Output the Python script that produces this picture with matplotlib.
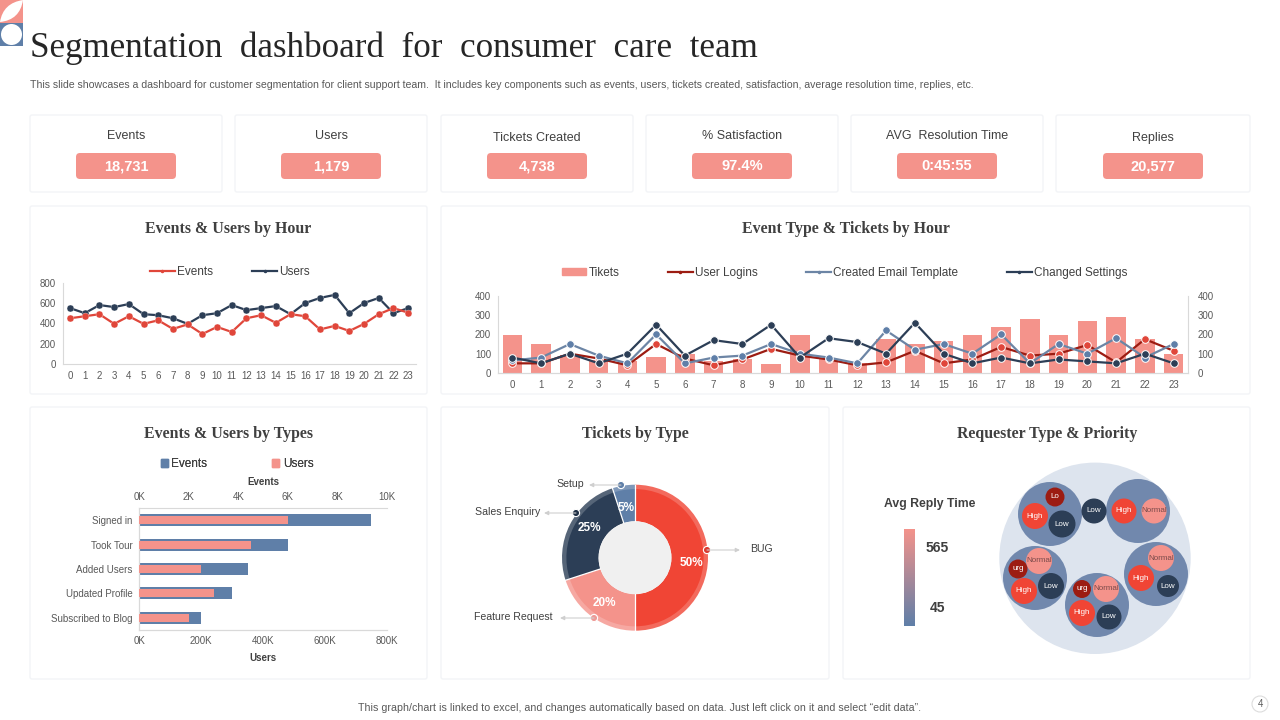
import numpy as np
import matplotlib
matplotlib.use("Agg")
import matplotlib.pyplot as plt
from matplotlib.colors import LinearSegmentedColormap
from matplotlib.lines import Line2D
from matplotlib.path import Path
from matplotlib.patches import Circle, FancyBboxPatch, Patch, PathPatch, Rectangle

plt.rcParams['font.family'] = ['Liberation Sans', 'DejaVu Sans']

W, H = 1280, 720

# colours
RED = '#e0463a'
DARK_RED = '#9c1c12'
NAVY = '#2c3e56'
BLUE = '#5f7fa8'
PINK = '#f4938b'
BRIGHT = '#f04535'
TXT = '#595959'
GRID = '#d9d9d9'
CARD = '#f3f4f7'

# KPI cards
kpi_names = ['Events', 'Users', 'Tickets Created', '% Satisfaction', 'AVG  Resolution Time', 'Replies']
kpi_values = ['18,731', '1,179', '4,738', '97.4%', '0:45:55', '20,577']

# hourly data
hours = list(range(24))
events_hour = [450, 470, 490, 395, 470, 395, 430, 345, 390, 295, 365, 315, 450, 480, 405, 490, 470, 340, 375, 325, 395, 490, 550, 505]
users_hour = [550, 500, 580, 560, 590, 490, 480, 450, 395, 480, 500, 580, 530, 550, 570, 490, 600, 650, 680, 500, 600, 650, 500, 550]

tickets = [197, 150, 95, 65, 60, 85, 100, 60, 75, 47, 197, 75, 50, 175, 150, 165, 197, 238, 280, 197, 270, 290, 175, 100]
user_logins = [50, 50, 100, 75, 40, 150, 75, 40, 70, 125, 90, 70, 40, 55, 115, 50, 70, 135, 90, 100, 145, 55, 175, 115]
email_template = [65, 80, 150, 90, 50, 200, 50, 80, 90, 150, 100, 80, 50, 220, 120, 150, 100, 200, 50, 150, 100, 180, 80, 150]
changed_settings = [80, 50, 100, 50, 100, 250, 90, 170, 150, 250, 80, 180, 160, 100, 260, 100, 50, 80, 50, 70, 60, 50, 100, 50]

# events & users by type
type_names = ['Signed in', 'Took Tour', 'Added Users', 'Updated Profile', 'Subscribed to Blog']
type_events = [9350, 6000, 4400, 3750, 2500]
type_users = [481000, 361000, 200000, 241000, 160000]

# tickets by type
ticket_types = ['BUG', 'Feature Request', 'Sales Enquiry', 'Setup']
ticket_share = [50, 20, 25, 5]
ticket_colors = [BRIGHT, PINK, NAVY, BLUE]
dot_colors = ['#d93a30', '#ee9a96', '#1f2f45', BLUE]

# callout layout in picture pixels: dot x, dot y, arrow tip x, label x, label alignment
callouts = [(707, 550, 740, 750, 'left'), (594, 618, 560, 553, 'right'),
            (576, 513, 544, 540, 'right'), (621, 485, 589, 584, 'right')]
pct_xy = [(691, 563), (604, 603), (589, 528), (626, 508)]

# requester type & priority, circle packing in picture pixels
groups = [(1050, 514, 32), (1138, 511, 32), (1035, 578, 32), (1156, 574, 32), (1097, 605, 32)]
bubble_labels = ['Lo', 'High', 'Low', 'Low', 'High', 'Normal', 'Normal', 'urg', 'High', 'Low',
                 'Normal', 'High', 'Low', 'urg', 'Normal', 'High', 'Low']
bubble_xy = [(1055, 497), (1035, 516), (1062, 524), (1094, 511), (1124, 511), (1154, 511),
             (1039, 561), (1018, 569), (1024, 591), (1051, 586),
             (1161, 558), (1141, 578), (1168, 586),
             (1082, 589), (1106, 589), (1082, 613), (1109, 617)]
bubble_r = [9.5, 13, 13.5, 12.5, 12.5, 12.5, 13, 9.5, 13, 13, 13, 13, 11, 9, 13, 13, 12.5]
priority_colors = {'Lo': DARK_RED, 'urg': DARK_RED, 'High': BRIGHT, 'Low': NAVY, 'Normal': PINK}

fig = plt.figure(figsize=(W / 100, H / 100), dpi=100, facecolor='white')


def px_axes(left, top, right, bottom):
    return fig.add_axes([left / W, 1 - bottom / H, (right - left) / W, (bottom - top) / H])


def px_layer():
    layer = fig.add_axes([0, 0, 1, 1])
    layer.set_xlim(0, W)
    layer.set_ylim(H, 0)
    layer.axis('off')
    return layer


# page layer in pixel coordinates
bg = px_layer()


def card(x0, y0, x1, y1):
    bg.add_patch(FancyBboxPatch((x0, y0), x1 - x0, y1 - y0, boxstyle='round,pad=0,rounding_size=2',
                                fc='white', ec=CARD, lw=1.0))


def add_legend(**kw):
    leg = bg.legend(loc='center', bbox_transform=bg.transData, frameon=False, fontsize=8.5,
                    labelcolor='#404040', **kw)
    bg.add_artist(leg)


# logo
bg.add_patch(Rectangle((0, 0), 23, 23, fc=PINK, ec='none'))
bg.add_patch(Rectangle((0, 23), 23, 23, fc=BLUE, ec='none'))
bg.add_patch(Circle((11.5, 34.5), 10.5, fc='white', ec='none'))
bg.add_patch(PathPatch(Path([(0, 22), (3, 3), (23, 0), (20, 20), (0, 22)],
                            [Path.MOVETO, Path.CURVE3, Path.CURVE3, Path.CURVE3, Path.CURVE3]),
                       fc='white', ec='none'))

bg.text(30, 48, 'Segmentation  dashboard  for  consumer  care  team', family='Liberation Serif',
        fontsize=25.2, color='#262626', va='center', ha='left')
bg.text(30, 84.5, 'This slide showcases a dashboard for customer segmentation for client support team.  It includes key '
        'components such as events, users, tickets created, satisfaction, average resolution time, replies, etc.',
        fontsize=7.6, color=TXT, va='center', ha='left')

# KPI row
card_x = [(30, 222), (235, 427), (441, 633), (646, 838), (851, 1043), (1056, 1250)]
pill_x = [76, 281, 487, 692, 897, 1103]
name_y = [136, 136, 138, 136, 136, 138]
for (x0, x1), px, ny, name, val in zip(card_x, pill_x, name_y, kpi_names, kpi_values):
    card(x0, 115, x1, 192)
    bg.text((x0 + x1) / 2, ny, name, fontsize=9, color='#404040', ha='center', va='center')
    bg.add_patch(FancyBboxPatch((px, 153), 100, 26, boxstyle='round,pad=0,rounding_size=4', fc=PINK, ec='none'))
    bg.text(px + 50, 166.5, val, fontsize=10.5, color='white', fontweight='bold', ha='center', va='center')

# panels
card(30, 206, 427, 394)
card(441, 206, 1250, 394)
card(30, 407, 427, 679)
card(441, 407, 829, 679)
card(843, 407, 1250, 679)

for tx, ty, t in [(228, 229, 'Events & Users by Hour'), (846, 229, 'Event Type & Tickets by Hour'),
                  (229, 434, 'Events & Users by Types'), (635, 434, 'Tickets by Type'),
                  (1047, 434, 'Requester Type & Priority')]:
    bg.text(tx, ty, t, family='Liberation Serif', fontsize=11.4, fontweight='bold', color='#404040',
            ha='center', va='center')

bg.text(640, 708, 'This graph/chart is linked to excel, and changes automatically based on data. Just left click on it '
        'and select \u201cedit data\u201d.', fontsize=7.65, color=TXT, ha='center', va='center')
bg.add_patch(Circle((1260, 704), 8, fc='white', ec='#dddddd', lw=0.8))
bg.text(1260, 704, '4', fontsize=7, color=TXT, ha='center', va='center')


def clean(ax, sides=('left', 'bottom')):
    ax.patch.set_alpha(0)
    for s in ax.spines:
        ax.spines[s].set_visible(s in sides)
        ax.spines[s].set_color(GRID)
    ax.tick_params(length=0, labelsize=7, labelcolor=TXT, pad=5)


def legend_line(color, label):
    return Line2D([0], [0], color=color, lw=1.6, marker='o', ms=1.5, label=label)


def hour_line(ax, y, color, mfc=None, mew=0.7, ms=5.5, z=3):
    ax.plot(hours, y, color=color, lw=1.6, marker='o', ms=ms, mfc=mfc or color, mec='white', mew=mew, zorder=z)


# events & users by hour
ax1 = px_axes(62.7, 282.7, 415.5, 364)
clean(ax1)
hour_line(ax1, users_hour, NAVY, mew=0.2, ms=5)
hour_line(ax1, events_hour, RED, mew=0.2, ms=5)
ax1.set_xlim(-0.5, 23.5)
ax1.set_ylim(0, 800)
ax1.set_xticks(hours)
ax1.set_yticks([0, 200, 400, 600, 800])
ax1.tick_params(axis='y', pad=5)
add_legend(handles=[legend_line(RED, 'Events'), legend_line(NAVY, 'Users')], ncol=2,
           bbox_to_anchor=(230, 272), handlelength=2.1, handletextpad=0.2, columnspacing=3.3)

# event type & tickets by hour
ax2 = px_axes(498, 295.7, 1188, 373)
clean(ax2)
ax2.bar(hours, tickets, width=0.68, color=PINK, zorder=1)
ax2.set_xlim(-0.5, 23.5)
ax2.set_ylim(0, 400)
ax2.set_xticks(hours)
ax2.set_yticks([0, 100, 200, 300, 400])
ax2.tick_params(axis='y', pad=5)
ax2r = ax2.twinx()
clean(ax2r, sides=('right', 'bottom'))
hour_line(ax2r, user_logins, DARK_RED, mfc=RED, z=3)
hour_line(ax2r, email_template, '#6c85a5', mfc=BLUE, z=4)
hour_line(ax2r, changed_settings, NAVY, z=5)
ax2r.set_ylim(0, 400)
ax2r.set_yticks([0, 100, 200, 300, 400])
ax2r.tick_params(axis='y', pad=7)
add_legend(handles=[Patch(color=PINK, label='Tikets'), legend_line(DARK_RED, 'User Logins'),
                    legend_line('#6c85a5', 'Created Email Template'), legend_line(NAVY, 'Changed Settings')],
           ncol=4, bbox_to_anchor=(844.5, 273), handlelength=2.1, handleheight=0.55, handletextpad=0.2,
           columnspacing=4.1)

# events & users by types
ax3 = px_axes(139.3, 508, 386.7, 630)
clean(ax3)
ypos = np.arange(len(type_names))
ax3.barh(ypos, type_users, height=0.33, color=PINK, zorder=3)
ax3.set_xlim(0, 800000)
ax3.set_xticks([0, 200000, 400000, 600000, 800000])
ax3.set_xticklabels(['0K', '200K', '400K', '600K', '800K'])
ax3.set_ylim(len(type_names) - 0.5, -0.5)
ax3.set_yticks(ypos)
ax3.set_yticklabels(type_names)
ax3.tick_params(axis='y', pad=5)
ax3.tick_params(axis='x', pad=4)
ax3.set_xlabel('Users', fontsize=7, fontweight='bold', color='#404040', labelpad=5.5)
ax3t = ax3.twiny()
clean(ax3t, sides=('left', 'top', 'bottom'))
ax3t.barh(ypos, type_events, height=0.49, color=BLUE, zorder=1)
ax3t.set_xlim(0, 10000)
ax3t.set_xticks([0, 2000, 4000, 6000, 8000, 10000])
ax3t.set_xticklabels(['0K', '2K', '4K', '6K', '8K', '10K'])
ax3t.xaxis.set_ticks_position('top')
ax3t.tick_params(axis='x', pad=4)
ax3t.set_xlabel('Events', fontsize=7, fontweight='bold', color='#404040', labelpad=5.5)
ax3t.xaxis.set_label_position('top')
ax3.set_zorder(ax3t.get_zorder() + 1)
add_legend(handles=[Patch(color=BLUE, label='Events'), Patch(color=PINK, label='Users')], ncol=2,
           bbox_to_anchor=(237, 464), handlelength=0.6, handleheight=0.7, handletextpad=0.3, columnspacing=5.5)

# tickets by type, white separators drawn on top so no ring shows between rim and core
ax4 = px_axes(555, 477.7, 715, 637.7)
ax4.pie(ticket_share, colors=ticket_colors, startangle=90, counterclock=False, radius=1.0,
        wedgeprops=dict(width=0.5, ec='none', alpha=0.8))
ax4.pie(ticket_share, colors=ticket_colors, startangle=90, counterclock=False, radius=0.94,
        wedgeprops=dict(width=0.44, ec='none'))
ax4.add_patch(Circle((0, 0), 0.5, fc='#f0f0f0', ec='none', zorder=5))
for edge in np.cumsum([0] + ticket_share[:-1]):
    ang = np.deg2rad(edge * 3.6)
    ax4.plot([0.5 * np.sin(ang), np.sin(ang)], [0.5 * np.cos(ang), np.cos(ang)], color='white', lw=0.9, zorder=6)
ax4.set_xlim(-1.096, 1.096)
ax4.set_ylim(-1.096, 1.096)

top = px_layer()
for name, share, (sx, sy) in zip(ticket_types, ticket_share, pct_xy):
    top.text(sx, sy, f'{share}%', color='white', fontsize=8.5, fontweight='bold', ha='center', va='center')
for name, col, (dx, dy, tip, lx, ha) in zip(ticket_types, dot_colors, callouts):
    top.annotate('', xy=(tip, dy), xytext=(dx, dy),
                 arrowprops=dict(arrowstyle='-|>,head_width=0.12,head_length=0.25', color='#cfcfcf', lw=0.8,
                                 shrinkA=0, shrinkB=0))
    top.add_patch(Circle((dx, dy), 3.6, fc=col, ec='white', lw=0.8))
    top.text(lx, dy - 1, name, fontsize=7.6, color='#404040', ha=ha, va='center')

# requester type & priority
top.add_patch(Circle((1095, 558.3), 95.7, fc='#dde4ee', ec='none'))
for gx, gy, gr in groups:
    top.add_patch(Circle((gx, gy), gr, fc='#7188ad', ec='none'))
for lab, (bx, by), br in zip(bubble_labels, bubble_xy, bubble_r):
    top.add_patch(Circle((bx, by), br, fc=priority_colors[lab], ec='none'))
    top.text(bx, by, lab, fontsize=5.8, color='#7a4a4a' if lab == 'Normal' else 'white', ha='center', va='center')

top.text(930, 503.5, 'Avg Reply Time', fontsize=8.8, color='#404040', fontweight='bold', ha='center', va='center')
grad = LinearSegmentedColormap.from_list('reply', [BLUE, PINK])
ax5 = px_axes(904, 529, 915, 626)
ax5.imshow(np.linspace(1, 0, 256).reshape(-1, 1), cmap=grad, aspect='auto', vmin=0, vmax=1)
ax5.axis('off')
top.text(937, 548.5, '565', fontsize=10, color='#404040', fontweight='bold', ha='center', va='center')
top.text(937, 608.5, '45', fontsize=10, color='#404040', fontweight='bold', ha='center', va='center')

fig.savefig('out.png', dpi=100, facecolor='white')
